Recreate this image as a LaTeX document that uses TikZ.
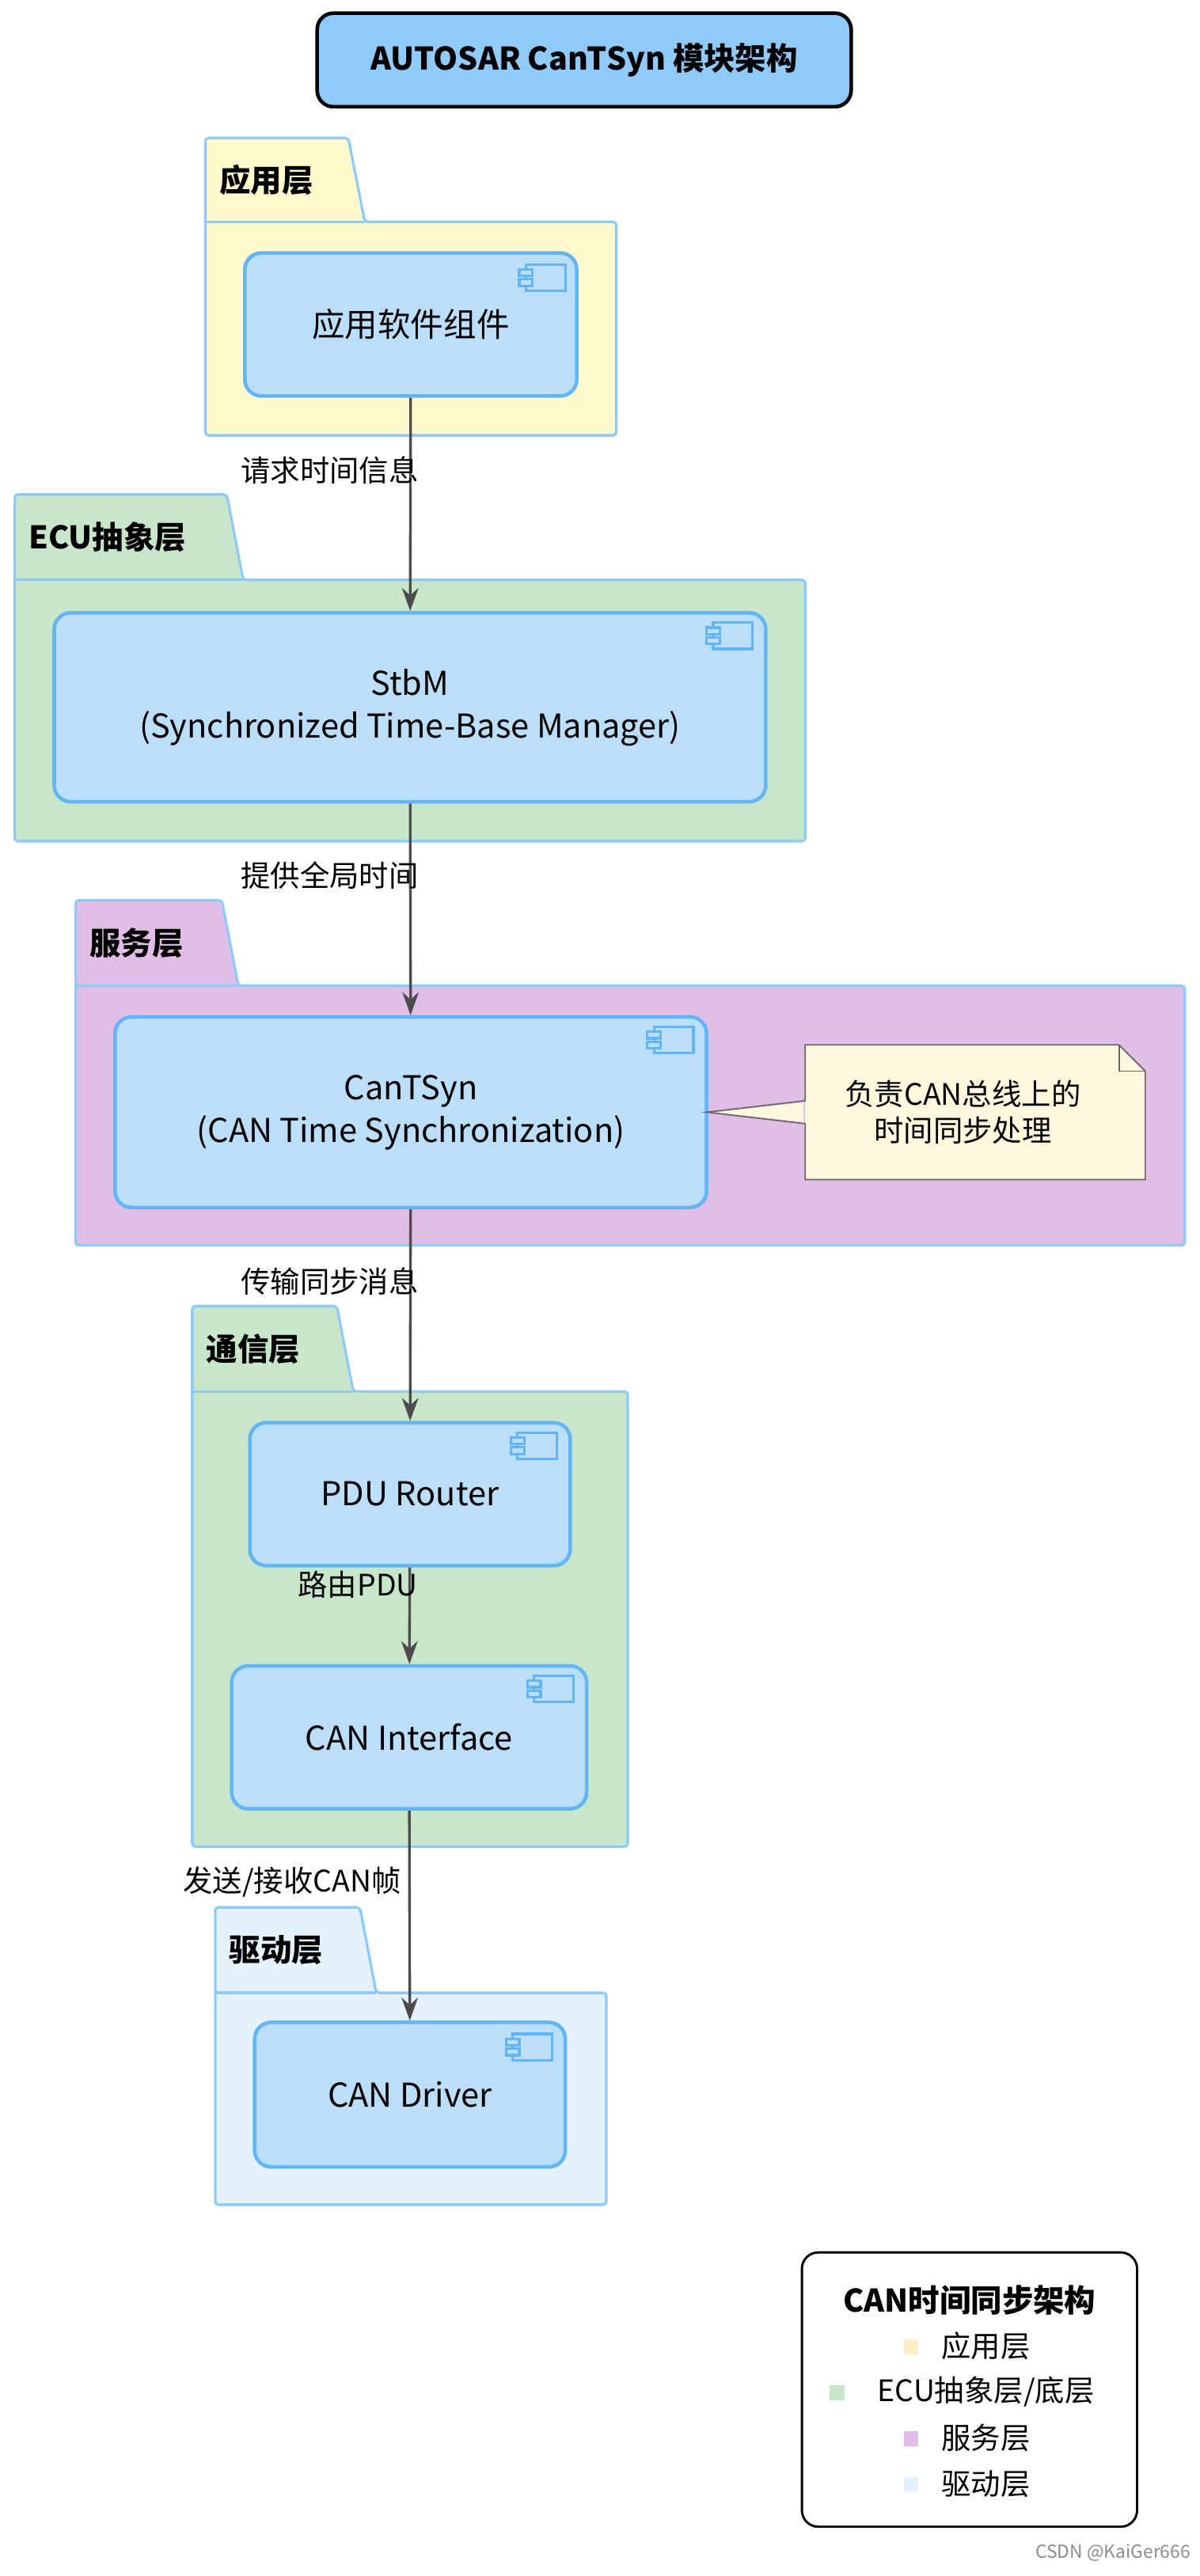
\documentclass[tikz,border=0pt]{standalone}
\usepackage{fontspec}
\setmainfont{Noto Sans CJK SC}
\usetikzlibrary{arrows.meta,shapes.misc}
\definecolor{cfill}{HTML}{BBDEFB}
\definecolor{cline}{HTML}{64B5F6}
\definecolor{pline}{HTML}{90CAF9}
\definecolor{yel}{HTML}{FFFACD}
\definecolor{grn}{HTML}{C8E6C9}
\definecolor{pur}{HTML}{E1BEE7}
\definecolor{blu}{HTML}{E3F2FD}
\definecolor{notef}{HTML}{FFF8DC}
\tikzset{
 comp/.style={draw=cline,fill=cfill,line width=2.2pt,rounded corners=10pt,align=center,font=\fontsize{20}{26}\selectfont},
 pkg/.style={draw=pline,line width=1.6pt},
 tab/.style={font=\bfseries\fontsize{19}{22}\selectfont,anchor=west},
 arr/.style={draw=black!70,line width=1.6pt,-{Stealth[length=14pt,width=10pt]}},
 lbl/.style={font=\fontsize{18}{22}\selectfont},
}
\newcommand{\mypkg}[8]{% tabx1 tabx2 taby1 taby2 bodyx2 bodyy2 fill name
 \fill[#7] (#1,#3) -- (#2-10,#3) -- (#2,#4) -- (#5,#4) -- (#5,#6) -- (#1,#6) -- cycle;
 \draw[pkg,rounded corners=2pt] (#1,#4) -- (#1,#3) -- (#2-10,#3) -- (#2,#4) -- (#5,#4) -- (#5,#6) -- (#1,#6) -- cycle;
 \draw[pkg] (#1,#4) -- (#2,#4);
 \node[tab] at (#1+5,{(#3+#4)/2}) {#8};}
\newcommand{\myicon}[2]{%
 \draw[cline,fill=cfill,line width=1.5pt] (#1-12,#2-8) rectangle (#1+12,#2+8);
 \draw[cline,fill=cfill,line width=1.5pt] (#1-16,#2-5) rectangle (#1-8,#2-1);
 \draw[cline,fill=cfill,line width=1.5pt] (#1-16,#2+1) rectangle (#1-8,#2+5);}
\begin{document}
\begin{tikzpicture}[x=1pt,y=-1pt]
\useasboundingbox (0,0) rectangle (730,1568);
\fill[white] (0,0) rectangle (730,1568);
% title
\node[draw=black,fill=pline,line width=2.2pt,rounded corners=10pt,minimum width=325pt,minimum height=57pt,font=\bfseries\fontsize{19}{22}\selectfont] (title) at (355.5,36.5) {AUTOSAR CanTSyn 模块架构};
% packages
\mypkg{125}{222}{84}{135}{375}{265}{yel}{应用层}
\mypkg{9}{148}{301}{353}{490}{512}{grn}{ECU抽象层}
\mypkg{46}{145}{548}{600}{721}{758}{pur}{服务层}
\mypkg{117}{215}{795}{847}{382}{1124}{grn}{通信层}
\mypkg{131}{229}{1161}{1213}{369}{1342}{blu}{驱动层}
% components
\node[comp,minimum width=202pt,minimum height=87pt] (app) at (250,197.5) {应用软件组件};
\myicon{332}{169}
\node[comp,minimum width=433pt,minimum height=115pt] (stbm) at (249.5,430.5) {StbM\\(Synchronized Time-Base Manager)};
\myicon{446}{387}
\node[comp,minimum width=360pt,minimum height=116pt] (cts) at (250,677) {CanTSyn\\(CAN Time Synchronization)};
\myicon{410}{633}
\node[comp,minimum width=195pt,minimum height=87pt] (pdu) at (249.5,909.5) {PDU Router};
\myicon{327}{880}
\node[comp,minimum width=216pt,minimum height=87pt] (cif) at (249,1057.5) {CAN Interface};
\myicon{337}{1028}
\node[comp,minimum width=189pt,minimum height=88pt] (drv) at (249.5,1275) {CAN Driver};
\myicon{324}{1246}
% note
\fill[notef] (490,636) -- (681,636) -- (697,652) -- (697,718) -- (490,718) -- cycle;
\draw[black!60,line width=0.8pt] (430,677) -- (490,670) -- (490,636) -- (681,636) -- (697,652) -- (697,718) -- (490,718) -- (490,684) -- cycle;
\draw[black!60,line width=0.8pt] (681,636) -- (681,652) -- (697,652);
\fill[notef] (489,671) -- (489,683) -- (436,677) -- cycle;
\node[lbl,align=center] (note) at (586,677) {负责CAN总线上的\\时间同步处理};
% arrows
\draw[arr] (app) -- (stbm) node[pos=0.34,left,lbl,xshift=9pt] {请求时间信息};
\draw[arr] (stbm) -- (cts) node[pos=0.34,left,lbl,xshift=9pt] {提供全局时间};
\draw[arr] (cts) -- (pdu) node[pos=0.34,left,lbl,xshift=9pt] {传输同步消息};
\draw[arr] (pdu) -- (cif) node[pos=0.18,left,lbl,xshift=9pt] {路由PDU};
\draw[arr] (cif) -- (drv) node[pos=0.34,left,lbl,xshift=-1pt] {发送/接收CAN帧};
% legend
\draw[black,line width=1.4pt,rounded corners=10pt] (488,1371) rectangle (692,1538);
\node[font=\bfseries\fontsize{19}{22}\selectfont] (lt) at (590,1400) {CAN时间同步架构};
\fill[yel!80!orange!60] (550,1424) rectangle (559,1433);
\node[lbl] at (600,1428) {应用层};
\fill[grn] (505,1452) rectangle (514,1461);
\node[lbl] at (600,1456) {ECU抽象层/底层};
\fill[pur] (550,1480) rectangle (559,1489);
\node[lbl] at (600,1484) {服务层};
\fill[blu] (550,1508) rectangle (559,1517);
\node[lbl] at (600,1512) {驱动层};
\node[font=\fontsize{11}{13}\selectfont,text=black!45,anchor=east] at (728,1554) {CSDN @KaiGer666};
\end{tikzpicture}
\end{document}
